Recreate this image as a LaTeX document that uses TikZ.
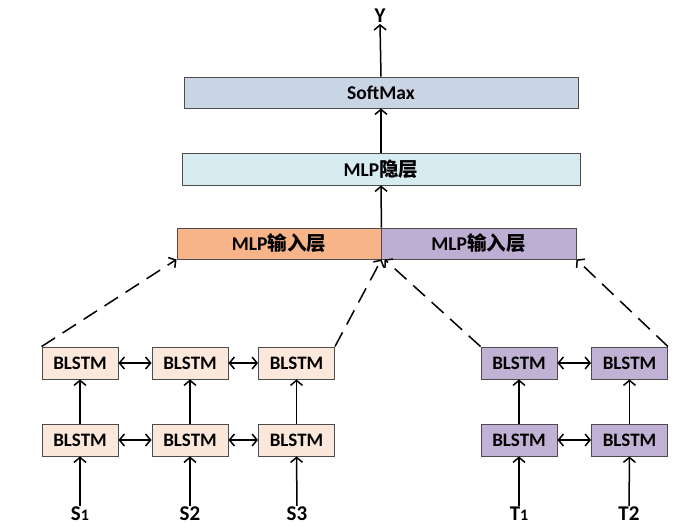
\documentclass[tikz,border=0pt]{standalone}
\usepackage{fontspec}
\setmainfont{Carlito}
\newfontfamily\cjk{Noto Sans CJK SC}
\usetikzlibrary{arrows.meta}
\definecolor{softblue}{HTML}{C9D5E4}
\definecolor{hidcyan}{HTML}{D7ECF1}
\definecolor{inorange}{HTML}{F7B489}
\definecolor{inpurple}{HTML}{BDAFD3}
\definecolor{lstmpeach}{HTML}{FCE7DB}
\definecolor{lstmpurple}{HTML}{C0B2D4}
\tikzset{
  box/.style={draw=black!70, line width=0.9pt, inner sep=0pt,
    font=\fontsize{19.5}{20}\selectfont\bfseries},
  layer/.style={box, minimum height=31pt},
  lstmS/.style={box, fill=lstmpeach, minimum width=76pt, minimum height=32pt,
    font=\fontsize{19}{20}\selectfont\bfseries},
  lstmT/.style={lstmS, fill=lstmpurple},
  lbl/.style={inner sep=1pt, font=\fontsize{21}{21}\selectfont\bfseries},
  arr/.style={-{Straight Barb[length=5pt,width=12pt]}, line width=1.5pt},
  dblarr/.style={{Straight Barb[length=5pt,width=12pt]}-{Straight Barb[length=5pt,width=12pt]}, line width=1.5pt},
  dasharr/.style={arr, dash pattern=on 16pt off 9pt}
}
\newcommand{\subone}{{\fontsize{16}{16}\selectfont 1}}
\begin{document}
\begin{tikzpicture}[x=1pt,y=-1pt]
	\useasboundingbox (0,0) rectangle (675,529);
	% upper layers
	\node[layer, fill=softblue, minimum width=394pt] (soft) at (381,92.5) {SoftMax};
	\node[layer, fill=hidcyan, minimum width=398pt, minimum height=32pt] (hid) at (381,169) {MLP\cjk 隐层};
	\node[layer, fill=inorange, minimum width=204pt] (inl) at (279,243.5) {MLP\cjk 输入层};
	\node[layer, fill=inpurple, minimum width=195pt] (inr) at (478.5,243.5) {MLP\cjk 输入层};
	\node[lbl] (y) at (380,16) {Y};
	% source side
	\node[lstmS] (s1a) at (80,440) {BLSTM};
	\node[lstmS] (s2a) at (190,440) {BLSTM};
	\node[lstmS] (s3a) at (296.5,440) {BLSTM};
	\node[lstmS] (s1b) at (80,363) {BLSTM};
	\node[lstmS] (s2b) at (190,363) {BLSTM};
	\node[lstmS] (s3b) at (296.5,363) {BLSTM};
	\node[lbl] (s1) at (80,514) {S\subone};
	\node[lbl] (s2) at (190,514) {S2};
	\node[lbl] (s3) at (297,514) {S3};
	% target side
	\node[lstmT] (t1a) at (519,440) {BLSTM};
	\node[lstmT] (t2a) at (629.5,440) {BLSTM};
	\node[lstmT] (t1b) at (519,363) {BLSTM};
	\node[lstmT] (t2b) at (629.5,363) {BLSTM};
	\node[lbl] (t1) at (519,514) {T\subone};
	\node[lbl] (t2) at (629,514) {T2};
	% connectors
	\draw[arr] (soft.north) -- (y.south);
	\draw[arr] (hid.north) -- (soft.south);
	\draw[arr] (inl.north east) -- (hid.south);
	\draw[arr] (s1.north) -- (s1a.south);
	\draw[arr] (s2.north) -- (s2a.south);
	\draw[arr] (s3.north) -- (s3a.south);
	\draw[arr] (t1.north) -- (t1a.south);
	\draw[arr] (t2.north) -- (t2a.south);
	\draw[arr] (s1a.north) -- (s1b.south);
	\draw[arr] (s2a.north) -- (s2b.south);
	\draw[arr] (s3a.north) -- (s3b.south);
	\draw[arr] (t1a.north) -- (t1b.south);
	\draw[arr] (t2a.north) -- (t2b.south);
	\draw[dblarr] (s1a) -- (s2a);
	\draw[dblarr] (s2a) -- (s3a);
	\draw[dblarr] (s1b) -- (s2b);
	\draw[dblarr] (s2b) -- (s3b);
	\draw[dblarr] (t1a) -- (t2a);
	\draw[dblarr] (t1b) -- (t2b);
	\draw[dasharr] (s1b.north west) -- (inl.south west);
	\draw[dasharr] (s3b.north east) -- (inl.south east);
	\draw[dasharr] (t1b.north west) -- ([xshift=4pt]inr.south west);
	\draw[dasharr] (t2b.north east) -- (inr.south east);
\end{tikzpicture}
\end{document}
